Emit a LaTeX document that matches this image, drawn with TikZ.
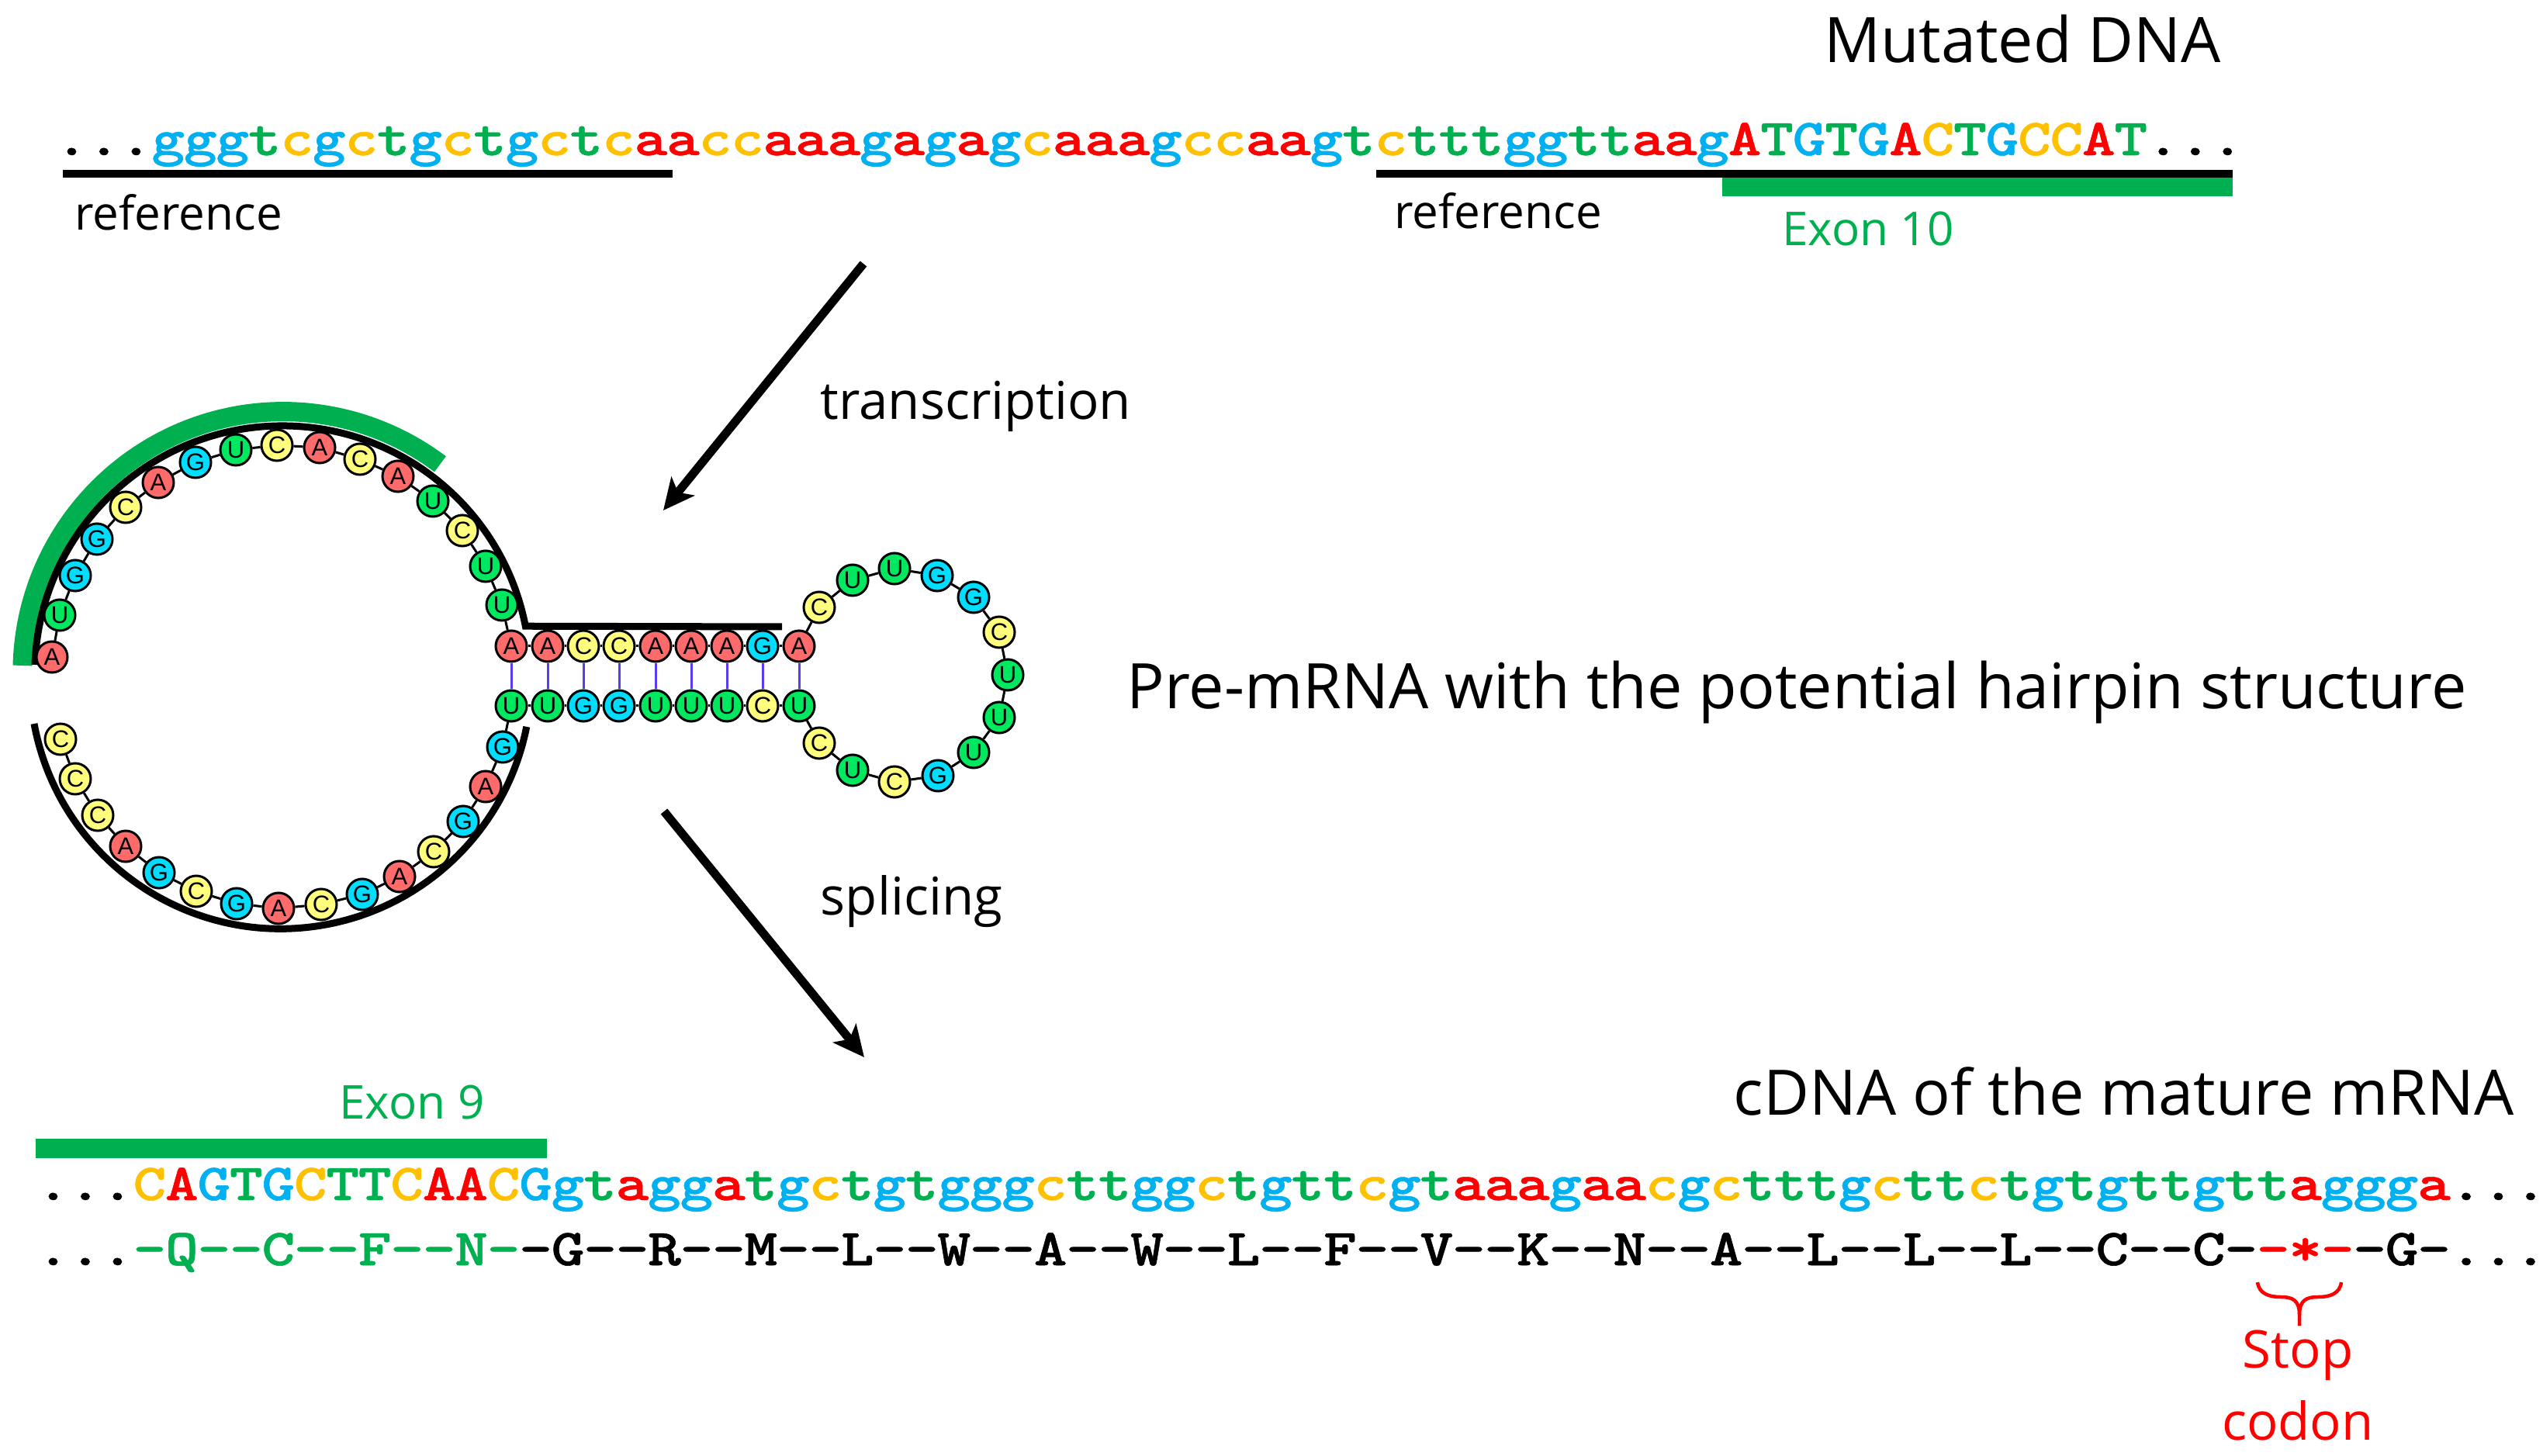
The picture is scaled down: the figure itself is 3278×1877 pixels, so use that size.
\documentclass[tikz,border=0pt]{standalone}
\usepackage{fontspec}
\usetikzlibrary{arrows.meta}
\setmainfont{Open Sans}
\newfontfamily\seqfont[FakeStretch=1.22,BoldFeatures={FakeBold=0.8}]{Latin Modern Mono Light}
\newfontfamily\beadfont{Liberation Sans}

\definecolor{exongreen}{HTML}{00B050}
\definecolor{basea}{HTML}{FF0000}
\definecolor{basec}{HTML}{FFC000}
\definecolor{baseg}{HTML}{00B0F0}
\definecolor{baset}{HTML}{00B050}
\definecolor{baseA}{HTML}{FF0000}
\definecolor{baseC}{HTML}{FFC000}
\definecolor{baseG}{HTML}{00B0F0}
\definecolor{baseT}{HTML}{00B050}
\definecolor{pairblue}{HTML}{5A3CF0}

% one fixed cell per character
\newcommand{\seqcell}[1]{\makebox[0.4145cm][c]{#1}}
\newcommand{\plainseq}[1]{\plainloop#1\relax}
\def\plainloop#1{\ifx#1\relax\else\seqcell{#1}\expandafter\plainloop\fi}
\newcommand{\colseq}[1]{\colloop#1\relax}
\def\colloop#1{\ifx#1\relax\else\seqcell{\textcolor{base#1}{#1}}\expandafter\colloop\fi}

\tikzset{
  bead/.style={circle,draw=black,line width=0.03cm,minimum size=0.4cm,inner sep=0pt,font=\beadfont\fontsize{8.8}{10}\selectfont},
  ba/.style={bead,fill={rgb,255:red,255;green,107;blue,107}},
  bc/.style={bead,fill={rgb,255:red,255;green,255;blue,125}},
  bg/.style={bead,fill={rgb,255:red,0;green,221;blue,255}},
  bu/.style={bead,fill={rgb,255:red,0;green,232;blue,96}},
  every edge/.style={draw,line width=0.03cm},
  pair/.style={draw=pairblue,line width=0.03cm},
  seq/.style={anchor=base west,inner sep=0pt,font=\seqfont\bfseries\fontsize{19}{22}\selectfont},
  label/.style={inner sep=0pt,font=\fontsize{23}{27}\selectfont},
  middle/.style={inner sep=0pt,font=\fontsize{19.1}{22}\selectfont},
  small/.style={inner sep=0pt,font=\fontsize{17.1}{20}\selectfont},
  bigarrow/.style={draw,line width=0.11cm,-{Stealth[length=0.4cm,width=0.38cm,inset=0.1cm]}},
}

\begin{document}
\begin{tikzpicture}[x=0.01cm,y=-0.01cm]
\useasboundingbox (0,0) rectangle (3278,1877);

% bars and outline
\draw[exongreen,line width=0.25cm] (29,858) arc[start angle=178.5,end angle=53,radius=3.36cm];
\draw[line width=0.09cm,miter limit=10] (45,857) arc[start angle=178,end angle=11,radius=3.19cm] -- (1008,808);
\draw[line width=0.09cm] (44,933) arc[start angle=190.5,end angle=348.8,radius=3.23cm];
\draw[line width=0.1cm] (81,224) -- (867,224);
\draw[line width=0.1cm] (1774,224) -- (2878,224);
\fill[exongreen] (2220,229) rectangle (2878,253);
\fill[exongreen] (46,1468) rectangle (705,1493);

% sequences
\node[seq] (dna) at (71,200) {\plainseq{...}\colseq{gggtcgctgctgctcaaccaaagagagcaaagccaagtctttggttaagATGTGACTGCCAT}\plainseq{...}};
\node[seq] (cdna) at (47,1547) {\plainseq{...}\colseq{CAGTGCTTCAACGgtaggatgctgtgggcttggctgttcgtaaagaacgctttgcttctgtgttgttaggga}\plainseq{...}};
\node[seq] (prot) at (47,1631) {\plainseq{...}\textcolor{exongreen}{\plainseq{-Q--C--F--N-}}\plainseq{-G--R--M--L--W--A--W--L--F--V--K--N--A--L--L--L--C--C-}\textcolor{red}{\plainseq{-*-}}\plainseq{-G-...}};

% labels
\node[label] (mut) at (2607,50) {Mutated DNA};
\node[small] (ref1) at (230,274) {reference};
\node[small] (ref2) at (1931,272) {reference};
\node[small,text=exongreen] (ex10) at (2408,295) {Exon 10};
\node[middle] (trans) at (1258,524) {transcription};
\node[label] (pre) at (2316,892) {Pre-mRNA with the potential hairpin structure};
\node[middle] (spl) at (1175,1162) {splicing};
\node[label] (mat) at (2738,1407) {cDNA of the mature mRNA};
\node[small,text=exongreen] (ex9) at (531,1421) {Exon 9};
\node[middle,text=red] (stop) at (2962,1747) {Stop};
\node[middle,text=red] (codon) at (2962,1831) {codon};

% arrows
\coordinate (t1) at (1113,340);
\coordinate (t2) at (855,658);
\coordinate (s1) at (856,1046);
\coordinate (s2) at (1114,1363);
\path[bigarrow] (t1) -- (t2);
\path[bigarrow] (s1) -- (s2);

% stop codon brace
\draw[red,line width=0.045cm] (2910,1653) .. controls (2912,1668) and (2925,1672) .. (2940,1672) .. controls (2955,1672) and (2964,1676) .. (2964,1695) -- (2964,1709);
\draw[red,line width=0.045cm] (3018,1653) .. controls (3016,1668) and (3003,1672) .. (2988,1672) .. controls (2973,1672) and (2964,1676) .. (2964,1695);

% upper loop
\node[ba] (p1) at (67,847) {A};
\node[bu] (p2) at (77,793) {U};
\node[bg] (p3) at (97,742) {G};
\node[bg] (p4) at (125,695) {G};
\node[bc] (p5) at (162,654) {C};
\node[ba] (p6) at (204,622) {A};
\node[bg] (p7) at (252,596) {G};
\node[bu] (p8) at (304,580) {U};
\node[bc] (p9) at (357,574) {C};
\node[ba] (p10) at (412,577) {A};
\node[bc] (p11) at (464,592) {C};
\node[ba] (p12) at (513,614) {A};
\node[bu] (p13) at (558,646) {U};
\node[bc] (p14) at (596,684) {C};
\node[bu] (p15) at (626,730) {U};
\node[bu] (p16) at (647,780) {U};

% stem, top row
\node[ba] (p17) at (659,833) {A};
\node[ba] (p18) at (706,833) {A};
\node[bc] (p19) at (752,833) {C};
\node[bc] (p20) at (798,833) {C};
\node[ba] (p21) at (845,833) {A};
\node[ba] (p22) at (891,833) {A};
\node[ba] (p23) at (937,833) {A};
\node[bg] (p24) at (983,833) {G};
\node[ba] (p25) at (1030,833) {A};

% small loop
\node[bc] (p26) at (1056,783) {C};
\node[bu] (p27) at (1099,748) {U};
\node[bu] (p28) at (1153,733) {U};
\node[bg] (p29) at (1208,742) {G};
\node[bg] (p30) at (1255,770) {G};
\node[bc] (p31) at (1288,815) {C};
\node[bu] (p32) at (1299,870) {U};
\node[bu] (p33) at (1288,925) {U};
\node[bu] (p34) at (1255,970) {U};
\node[bg] (p35) at (1209,1000) {G};
\node[bc] (p36) at (1153,1008) {C};
\node[bu] (p37) at (1099,993) {U};
\node[bc] (p38) at (1056,958) {C};

% stem, bottom row
\node[bu] (p39) at (1030,910) {U};
\node[bc] (p40) at (983,910) {C};
\node[bu] (p41) at (937,910) {U};
\node[bu] (p42) at (891,910) {U};
\node[bu] (p43) at (845,910) {U};
\node[bg] (p44) at (798,910) {G};
\node[bg] (p45) at (752,910) {G};
\node[bu] (p46) at (706,910) {U};
\node[bu] (p47) at (659,910) {U};

% lower loop
\node[bg] (p48) at (648,963) {G};
\node[ba] (p49) at (626,1014) {A};
\node[bg] (p50) at (597,1059) {G};
\node[bc] (p51) at (559,1098) {C};
\node[ba] (p52) at (515,1130) {A};
\node[bg] (p53) at (467,1153) {G};
\node[bc] (p54) at (414,1166) {C};
\node[ba] (p55) at (359,1171) {A};
\node[bg] (p56) at (305,1165) {G};
\node[bc] (p57) at (253,1149) {C};
\node[bg] (p58) at (205,1125) {G};
\node[ba] (p59) at (162,1091) {A};
\node[bc] (p60) at (126,1051) {C};
\node[bc] (p61) at (97,1004) {C};
\node[bc] (p62) at (78,953) {C};

\path (p1) edge (p2); \path (p2) edge (p3); \path (p3) edge (p4); \path (p4) edge (p5);
\path (p5) edge (p6); \path (p6) edge (p7); \path (p7) edge (p8); \path (p8) edge (p9);
\path (p9) edge (p10); \path (p10) edge (p11); \path (p11) edge (p12); \path (p12) edge (p13);
\path (p13) edge (p14); \path (p14) edge (p15); \path (p15) edge (p16); \path (p16) edge (p17);
\path (p17) edge (p18); \path (p18) edge (p19); \path (p19) edge (p20); \path (p20) edge (p21);
\path (p21) edge (p22); \path (p22) edge (p23); \path (p23) edge (p24); \path (p24) edge (p25);
\path (p25) edge (p26); \path (p26) edge (p27); \path (p27) edge (p28); \path (p28) edge (p29);
\path (p29) edge (p30); \path (p30) edge (p31); \path (p31) edge (p32); \path (p32) edge (p33);
\path (p33) edge (p34); \path (p34) edge (p35); \path (p35) edge (p36); \path (p36) edge (p37);
\path (p37) edge (p38); \path (p38) edge (p39); \path (p39) edge (p40); \path (p40) edge (p41);
\path (p41) edge (p42); \path (p42) edge (p43); \path (p43) edge (p44); \path (p44) edge (p45);
\path (p45) edge (p46); \path (p46) edge (p47); \path (p47) edge (p48); \path (p48) edge (p49);
\path (p49) edge (p50); \path (p50) edge (p51); \path (p51) edge (p52); \path (p52) edge (p53);
\path (p53) edge (p54); \path (p54) edge (p55); \path (p55) edge (p56); \path (p56) edge (p57);
\path (p57) edge (p58); \path (p58) edge (p59); \path (p59) edge (p60); \path (p60) edge (p61);
\path (p61) edge (p62);

% base pairs
\draw[pair] (p17) -- (p47);
\draw[pair] (p18) -- (p46);
\draw[pair] (p19) -- (p45);
\draw[pair] (p20) -- (p44);
\draw[pair] (p21) -- (p43);
\draw[pair] (p22) -- (p42);
\draw[pair] (p23) -- (p41);
\draw[pair] (p24) -- (p40);
\draw[pair] (p25) -- (p39);

\end{tikzpicture}
\end{document}
